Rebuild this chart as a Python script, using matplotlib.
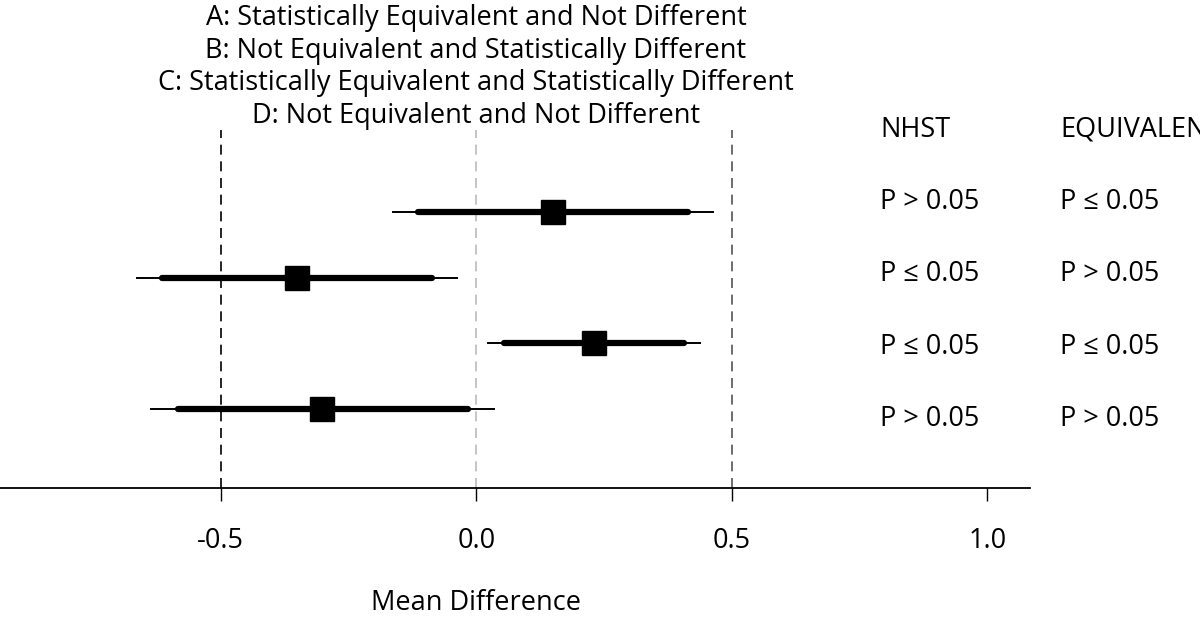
import matplotlib.pyplot as plt

plt.rcParams['font.family'] = ['Open Sans', 'DejaVu Sans']

# data: one row per scenario, top to bottom
rows = [4, 3, 2, 1]
means = [0.150, -0.351, 0.230, -0.301]
ci90_lo = [-0.114, -0.615, 0.054, -0.583]
ci90_hi = [0.414, -0.086, 0.407, -0.017]
ci95_lo = [-0.163, -0.664, 0.023, -0.636]
ci95_hi = [0.464, -0.037, 0.438, 0.035]
bounds = [-0.5, 0.5]
nhst = ['P > 0.05', 'P \u2264 0.05', 'P \u2264 0.05', 'P > 0.05']
equiv = ['P \u2264 0.05', 'P > 0.05', 'P \u2264 0.05', 'P > 0.05']
legend_lines = [
    'A: Statistically Equivalent and Not Different',
    'B: Not Equivalent and Statistically Different',
    'C: Statistically Equivalent and Statistically Different',
    'D: Not Equivalent and Not Different',
]
xticks = [-0.5, 0.0, 0.5, 1.0]

fig = plt.figure(figsize=(12, 6.3), dpi=100)
ax = fig.add_axes([0, (630 - 488) / 630, 1030 / 1200, 488 / 630])
ax.set_xlim(-0.9319, 1.0837)
ax.set_ylim(-0.211, 7.243)

# reference lines
ax.vlines(0, -0.211, 5.26, colors='#bbbbbb', linestyles=(0, (6, 4)), linewidth=1.2)
ax.vlines(bounds[0], -0.211, 5.26, colors='black', linestyles=(0, (6, 4)), linewidth=1.2)
ax.vlines(bounds[1], -0.211, 5.26, colors='#555555', linestyles=(0, (6, 4)), linewidth=1.2)

for i in range(len(rows)):
    ax.plot([ci95_lo[i], ci95_hi[i]], [rows[i], rows[i]], color='black', linewidth=1.4)
    ax.plot([ci90_lo[i], ci90_hi[i]], [rows[i], rows[i]], color='black', linewidth=4.5,
            solid_capstyle='round')
    ax.plot(means[i], rows[i], marker='s', color='black', markersize=17)

for s in ['top', 'left', 'right']:
    ax.spines[s].set_visible(False)
ax.spines['bottom'].set_linewidth(1.3)
ax.set_yticks([])
ax.set_xticks(xticks)
ax.set_xticklabels(['-0.5', '0.0', '0.5', '1.0'])
ax.tick_params(axis='x', direction='out', length=9, width=1, pad=19, labelsize=19.5)

# legend text at top
for j, line in enumerate(legend_lines):
    fig.text(476 / 1200, 1 - (18 + 32.7 * j) / 630, line, ha='center', va='center', fontsize=19.5)

fig.text(476 / 1200, 1 - 603 / 630, 'Mean Difference', ha='center', va='center', fontsize=19.5)

# p-value columns
fig.text(880 / 1200, 1 - 130 / 630, 'NHST', ha='left', va='center', fontsize=19.5)
fig.text(1060 / 1200, 1 - 130 / 630, 'EQUIVALENCE', ha='left', va='center', fontsize=19.5)
for i in range(len(rows)):
    yy = 1 - (202 + 72.3 * i) / 630
    fig.text(880 / 1200, yy, nhst[i], ha='left', va='center', fontsize=19.5)
    fig.text(1060 / 1200, yy, equiv[i], ha='left', va='center', fontsize=19.5)

fig.savefig('out.png', dpi=100)
